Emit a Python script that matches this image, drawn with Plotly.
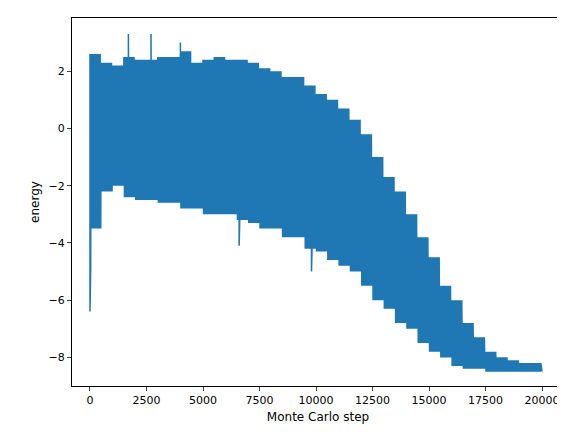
import plotly.graph_objects as go

# envelope, every 500 steps
env_x = list(range(0, 20001, 500))
upper = [2.6, 2.3, 2.2, 2.5, 2.4, 2.4, 2.5, 2.5, 2.7, 2.3, 2.4, 2.5, 2.4, 2.4, 2.3, 2.1,
         2.0, 1.8, 1.8, 1.5, 1.2, 1.0, 0.7, 0.3, -0.2, -1.0, -1.7, -2.2, -3.0, -3.8, -4.5,
         -5.5, -6.0, -6.8, -7.3, -7.8, -8.0, -8.1, -8.2, -8.2, -8.3]
lower = [-3.5, -2.2, -2.0, -2.4, -2.5, -2.5, -2.6, -2.6, -2.8, -2.8, -3.0, -3.0, -3.0, -3.2,
         -3.3, -3.5, -3.5, -3.8, -3.8, -4.2, -4.3, -4.6, -4.8, -5.0, -5.5, -6.0, -6.3, -6.8,
         -7.0, -7.5, -7.8, -8.0, -8.3, -8.4, -8.4, -8.5, -8.5, -8.5, -8.5, -8.5, -8.5]
# isolated spikes
spike_x = [0, 30, 1700, 2700, 4000, 6600, 9800]
spike_y = [-6.4, -4.9, 3.3, 3.3, 3.0, -4.1, -5.0]
tick_x = [0, 2500, 5000, 7500, 10000, 12500, 15000, 17500, 20000]

step = 25
xs, ys = [], []
spikes = dict(zip(spike_x, spike_y))
for i, x0 in enumerate(env_x[:-1]):
    for k in range(500 // step):
        x = x0 + k * step
        xs.append(x)
        ys.append(upper[i] if k % 2 == 0 else lower[i])
        for sx in spike_x:
            if x <= sx < x + step:
                xs.append(sx)
                ys.append(spikes[sx])
xs.append(env_x[-1])
ys.append(lower[-1])

fig = go.Figure(go.Scatter(x=xs, y=ys, mode="lines", line=dict(color="#1f77b4", width=1.5)))
axis = dict(showgrid=False, zeroline=False, showline=True, linecolor="black", mirror=True,
            ticks="outside", ticklen=4, tickfont=dict(size=11, color="black"))
fig.update_xaxes(axis, range=[-796, 20973], tickvals=tick_x, ticktext=[str(t) for t in tick_x],
                 title=dict(text="Monte Carlo step", font=dict(size=12, color="black"), standoff=6))
fig.update_yaxes(axis, range=[-9.0, 3.86], tickvals=[-8, -6, -4, -2, 0, 2],
                 title=dict(text="energy", font=dict(size=12, color="black"), standoff=6))
fig.update_layout(width=565, height=432, margin=dict(l=64, r=9, t=10, b=54),
                  plot_bgcolor="white", paper_bgcolor="white", showlegend=False,
                  font=dict(family="DejaVu Sans"))
fig.write_html("out.html")
